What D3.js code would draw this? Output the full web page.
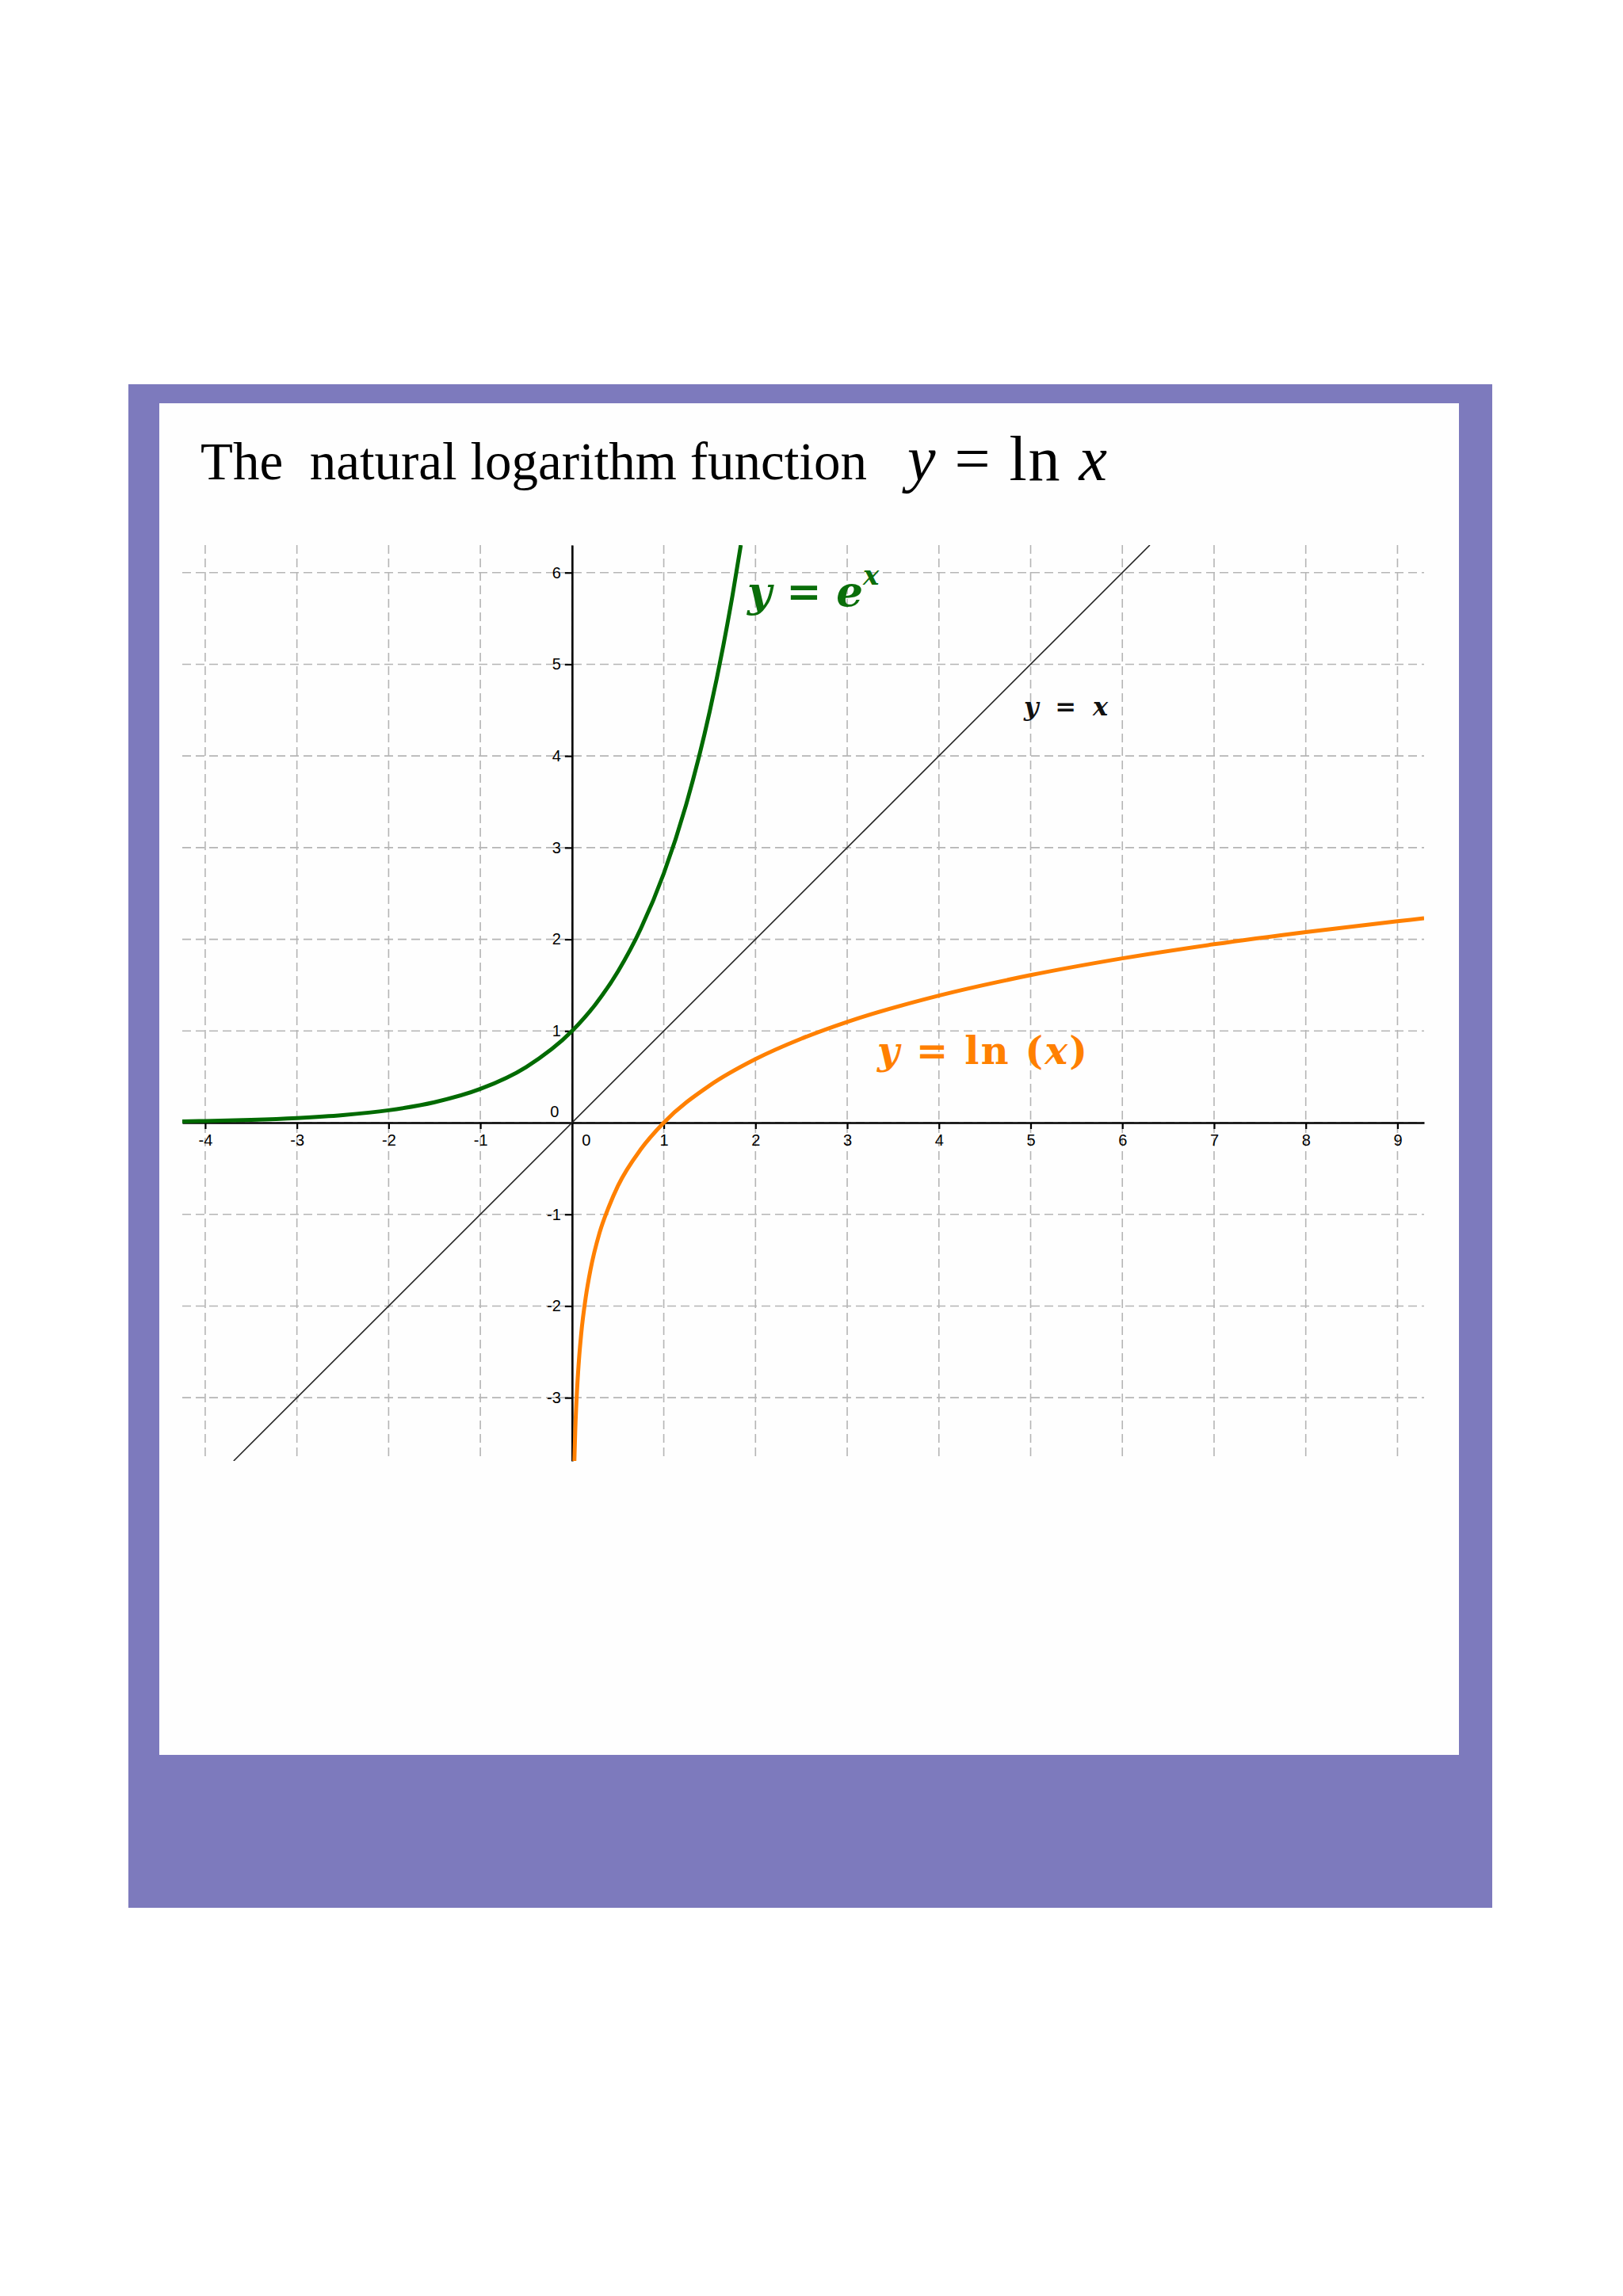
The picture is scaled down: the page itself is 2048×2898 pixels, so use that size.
<!DOCTYPE html>
<html>
<head>
<meta charset="utf-8">
<script src="https://cdn.jsdelivr.net/npm/d3@7"></script>
<style>
  html, body { margin: 0; padding: 0; background: #fff; }
  svg { display: block; }
</style>
</head>
<body>
<div id="chart"></div>
<script>
// values
const xTicks = [-4, -3, -2, -1, 1, 2, 3, 4, 5, 6, 7, 8, 9];
const yTicks = [-3, -2, -1, 1, 2, 3, 4, 5, 6];
const gridX = [-4, -3, -2, -1, 0, 1, 2, 3, 4, 5, 6, 7, 8, 9];
const gridY = [-3, -2, -1, 0, 1, 2, 3, 4, 5, 6];

// y = e^x
const expX = [-4.25, -4, -3.5, -3, -2.5, -2, -1.5, -1, -0.5, 0, 0.25, 0.5, 0.75, 1, 1.25, 1.5, 1.65, 1.75, 1.84];
const expY = [0.014, 0.018, 0.03, 0.05, 0.082, 0.135, 0.223, 0.368, 0.607, 1, 1.284, 1.649, 2.117, 2.718, 3.49, 4.482, 5.207, 5.755, 6.3];

// y = ln(x)
const lnX = [0.025, 0.035, 0.05, 0.075, 0.1, 0.15, 0.2, 0.3, 0.4, 0.5, 0.75, 1, 1.5, 2, 2.5, 3, 4, 5, 6, 7, 8, 9, 9.29];
const lnY = [-3.69, -3.35, -3.0, -2.59, -2.3, -1.9, -1.61, -1.2, -0.92, -0.69, -0.29, 0, 0.405, 0.693, 0.916, 1.099, 1.386, 1.609, 1.792, 1.946, 2.079, 2.197, 2.229];

// y = x
const idX = [-3.69, 6.3];
const idY = [-3.69, 6.3];

const W = 2048, H = 2898;
const svg = d3.select("#chart").append("svg")
  .attr("width", W).attr("height", H)
  .attr("viewBox", `0 0 ${W} ${H}`);

// frame
svg.append("rect").attr("x", 162).attr("y", 485).attr("width", 1721).attr("height", 1923).attr("fill", "#7d7abd");
svg.append("rect").attr("x", 201).attr("y", 509).attr("width", 1640).attr("height", 1706).attr("fill", "#fefefe");

// title
svg.append("text")
  .attr("x", 253).attr("y", 605)
  .attr("font-family", "'Liberation Serif', 'Times New Roman', serif")
  .attr("font-size", 67)
  .attr("fill", "#000")
  .text("The\u00a0\u00a0natural logarithm function");

const titleMath = svg.append("text")
  .attr("x", 1145).attr("y", 606)
  .attr("font-family", "'Liberation Serif', 'Times New Roman', serif")
  .attr("font-size", 80)
  .attr("textLength", 252).attr("lengthAdjust", "spacing")
  .attr("fill", "#000");
titleMath.append("tspan").attr("font-style", "italic").text("y");
titleMath.append("tspan").text(" = ln ");
titleMath.append("tspan").attr("font-style", "italic").text("x");

// scales
const x = d3.scaleLinear().domain([-4.25, 9.29]).range([230, 1797]);
const y = d3.scaleLinear().domain([-3.69, 6.30]).range([1844, 688]);

// grid
const grid = svg.append("g")
  .attr("stroke", "#b5b5b5").attr("stroke-width", 1.6).attr("stroke-dasharray", "11,6");
grid.selectAll(".gx").data(gridX).enter().append("line")
  .attr("x1", d => x(d)).attr("x2", d => x(d))
  .attr("y1", y.range()[1]).attr("y2", y.range()[0]);
grid.selectAll(".gy").data(gridY).enter().append("line")
  .attr("y1", d => y(d)).attr("y2", d => y(d))
  .attr("x1", x.range()[0]).attr("x2", x.range()[1]);

// axes
const fontAxis = "'Liberation Sans', Arial, sans-serif";
const xAxis = svg.append("g")
  .attr("transform", `translate(0,${y(0)})`)
  .call(d3.axisBottom(x).tickValues(xTicks).tickSize(8).tickSizeOuter(0).tickPadding(7).tickFormat(d3.format("d")));
const yAxis = svg.append("g")
  .attr("transform", `translate(${x(0)},0)`)
  .call(d3.axisLeft(y).tickValues(yTicks).tickSize(9).tickSizeOuter(0).tickPadding(5).tickFormat(d3.format("d")));

[xAxis, yAxis].forEach(a => {
  a.select(".domain").attr("stroke", "#000").attr("stroke-width", 2.6);
  a.selectAll(".tick line").attr("stroke", "#000").attr("stroke-width", 2.2);
  a.selectAll(".tick text").attr("fill", "#000").attr("font-family", fontAxis).attr("font-size", 20);
});
// tick labels use a plain hyphen like the original
svg.selectAll(".tick text").text(function () { return this.textContent.replace("\u2212", "-"); });

// zero labels
svg.append("text").attr("x", x(0) + 18).attr("y", y(0) + 29)
  .attr("text-anchor", "middle").attr("font-family", fontAxis).attr("font-size", 20).text("0");
svg.append("text").attr("x", x(0) - 22).attr("y", y(0) - 7)
  .attr("text-anchor", "middle").attr("font-family", fontAxis).attr("font-size", 20).text("0");

// curves
svg.append("clipPath").attr("id", "plotClip").append("rect")
  .attr("x", x.range()[0]).attr("y", y.range()[1])
  .attr("width", x.range()[1] - x.range()[0]).attr("height", y.range()[0] - y.range()[1]);

const plot = svg.append("g").attr("clip-path", "url(#plotClip)");
const line = d3.line().x(d => x(d[0])).y(d => y(d[1])).curve(d3.curveMonotoneX);

plot.append("path")
  .datum(d3.zip(idX, idY))
  .attr("d", d3.line().x(d => x(d[0])).y(d => y(d[1])))
  .attr("fill", "none").attr("stroke", "#222").attr("stroke-width", 1.6);

plot.append("path")
  .datum(d3.zip(expX, expY))
  .attr("d", line)
  .attr("fill", "none").attr("stroke", "#006a00").attr("stroke-width", 5);

plot.append("path")
  .datum(d3.zip(lnX, lnY))
  .attr("d", line)
  .attr("fill", "none").attr("stroke", "#ff8000").attr("stroke-width", 5);

// curve labels
const mathFont = "'DejaVu Serif', serif";

const lblExp = svg.append("text")
  .attr("x", 943).attr("y", 765)
  .attr("font-family", mathFont).attr("font-weight", "bold").attr("font-size", 53)
  .attr("textLength", 146).attr("lengthAdjust", "spacing")
  .attr("fill", "#0a6e0a");
lblExp.append("tspan").attr("font-style", "italic").text("y");
lblExp.append("tspan").text(" = ");
lblExp.append("tspan").attr("font-style", "italic").text("e");
svg.append("text")
  .attr("x", 1089).attr("y", 738)
  .attr("font-family", mathFont).attr("font-weight", "bold").attr("font-style", "italic").attr("font-size", 34)
  .attr("fill", "#0a6e0a").text("x");

const lblId = svg.append("text")
  .attr("x", 1292).attr("y", 903)
  .attr("font-family", mathFont).attr("font-weight", "bold").attr("font-size", 32)
  .attr("textLength", 106).attr("lengthAdjust", "spacing")
  .attr("fill", "#111");
lblId.append("tspan").attr("font-style", "italic").text("y");
lblId.append("tspan").text(" = ");
lblId.append("tspan").attr("font-style", "italic").text("x");

const lblLn = svg.append("text")
  .attr("x", 1107).attr("y", 1343)
  .attr("font-family", mathFont).attr("font-weight", "bold").attr("font-size", 48)
  .attr("textLength", 265).attr("lengthAdjust", "spacing")
  .attr("fill", "#ff8000");
lblLn.append("tspan").attr("font-style", "italic").text("y");
lblLn.append("tspan").text(" = ln (");
lblLn.append("tspan").attr("font-style", "italic").text("x");
lblLn.append("tspan").text(")");
</script>
</body>
</html>
